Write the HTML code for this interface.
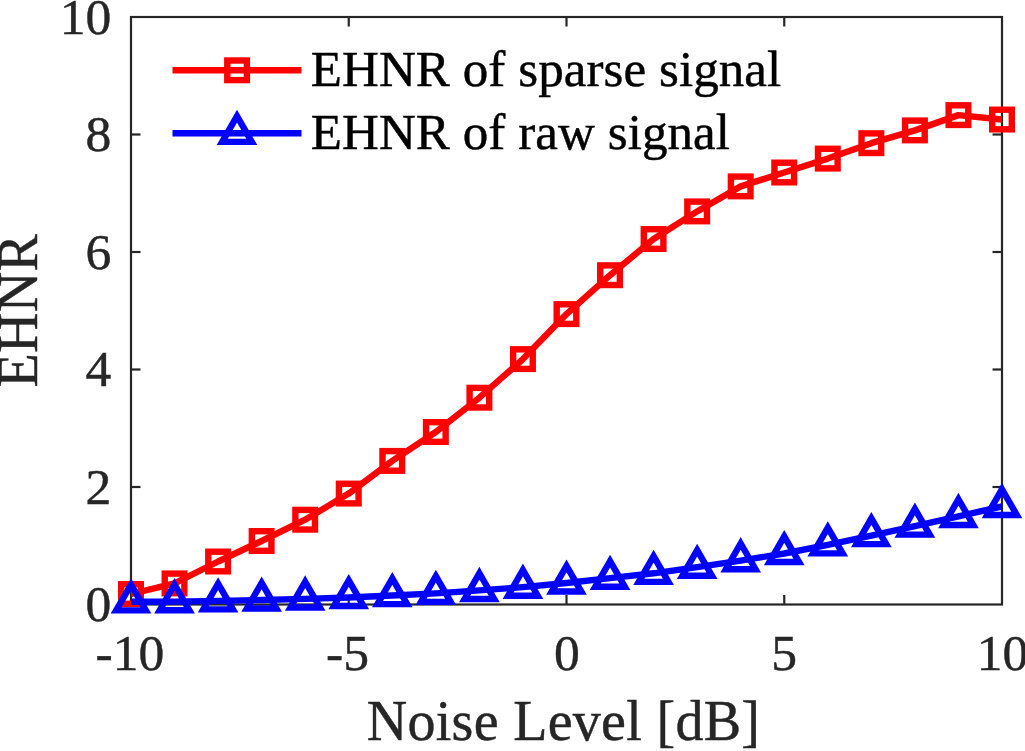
<!DOCTYPE html>
<html lang="en"><head><meta charset="utf-8"><title>EHNR vs Noise Level</title>
<style>html,body{margin:0;padding:0;background:#fff;}svg{display:block;}text{font-family:"Liberation Serif","Times New Roman",serif;stroke-width:0.45px;}</style></head><body>
<svg width="1025" height="751" viewBox="0 0 1025 751">
<rect x="0" y="0" width="1025" height="751" fill="#ffffff"/>
<g stroke="#262626" stroke-width="2.2" fill="none" stroke-linecap="butt">
<rect x="131.0" y="17.0" width="871.0" height="587.5"/>
<line x1="348.75" y1="604.5" x2="348.75" y2="595.0"/>
<line x1="348.75" y1="17.0" x2="348.75" y2="26.5"/>
<line x1="566.50" y1="604.5" x2="566.50" y2="595.0"/>
<line x1="566.50" y1="17.0" x2="566.50" y2="26.5"/>
<line x1="784.25" y1="604.5" x2="784.25" y2="595.0"/>
<line x1="784.25" y1="17.0" x2="784.25" y2="26.5"/>
<line x1="131.0" y1="487.00" x2="140.5" y2="487.00"/>
<line x1="1002.0" y1="487.00" x2="992.5" y2="487.00"/>
<line x1="131.0" y1="369.50" x2="140.5" y2="369.50"/>
<line x1="1002.0" y1="369.50" x2="992.5" y2="369.50"/>
<line x1="131.0" y1="252.00" x2="140.5" y2="252.00"/>
<line x1="1002.0" y1="252.00" x2="992.5" y2="252.00"/>
<line x1="131.0" y1="134.50" x2="140.5" y2="134.50"/>
<line x1="1002.0" y1="134.50" x2="992.5" y2="134.50"/>
</g>
<g fill="#262626" stroke="#262626" font-size="51.6px">
<text x="130.00" y="670" text-anchor="middle">-10</text>
<text x="347.45" y="670" text-anchor="middle">-5</text>
<text x="566.80" y="670" text-anchor="middle">0</text>
<text x="784.05" y="670" text-anchor="middle">5</text>
<text x="1002.50" y="670" text-anchor="middle">10</text>
<text x="111.3" y="621.00" text-anchor="end">0</text>
<text x="111.3" y="503.50" text-anchor="end">2</text>
<text x="111.3" y="386.00" text-anchor="end">4</text>
<text x="111.3" y="268.50" text-anchor="end">6</text>
<text x="111.3" y="151.00" text-anchor="end">8</text>
<text x="111.3" y="33.50" text-anchor="end">10</text>
</g>
<g fill="#262626" stroke="#262626" font-size="56.0px" letter-spacing="0.3">
<text x="563.5" y="740.2" text-anchor="middle">Noise Level [dB]</text>
<text transform="translate(37,310.7) rotate(-90)" text-anchor="middle">EHNR</text>
</g>
<clipPath id="c"><rect x="131.0" y="17.0" width="871.0" height="588.5"/></clipPath>
<polyline clip-path="url(#c)" points="131.00,593.98 174.55,583.41 218.10,561.50 261.65,540.99 305.20,519.72 348.75,493.58 392.30,460.91 435.85,432.01 479.40,397.70 522.95,359.10 566.50,314.10 610.05,275.21 653.60,239.02 697.15,211.40 740.70,186.38 784.25,172.51 827.80,158.59 871.35,143.19 914.90,130.39 958.45,115.11 1002.00,119.52" fill="none" stroke="#ff0000" stroke-width="6.4" stroke-linejoin="round"/>
<rect x="121.20" y="584.18" width="19.6" height="19.6" fill="none" stroke="#ff0000" stroke-width="6.4" stroke-linejoin="miter"/>
<rect x="164.75" y="573.61" width="19.6" height="19.6" fill="none" stroke="#ff0000" stroke-width="6.4" stroke-linejoin="miter"/>
<rect x="208.30" y="551.70" width="19.6" height="19.6" fill="none" stroke="#ff0000" stroke-width="6.4" stroke-linejoin="miter"/>
<rect x="251.85" y="531.19" width="19.6" height="19.6" fill="none" stroke="#ff0000" stroke-width="6.4" stroke-linejoin="miter"/>
<rect x="295.40" y="509.92" width="19.6" height="19.6" fill="none" stroke="#ff0000" stroke-width="6.4" stroke-linejoin="miter"/>
<rect x="338.95" y="483.78" width="19.6" height="19.6" fill="none" stroke="#ff0000" stroke-width="6.4" stroke-linejoin="miter"/>
<rect x="382.50" y="451.11" width="19.6" height="19.6" fill="none" stroke="#ff0000" stroke-width="6.4" stroke-linejoin="miter"/>
<rect x="426.05" y="422.21" width="19.6" height="19.6" fill="none" stroke="#ff0000" stroke-width="6.4" stroke-linejoin="miter"/>
<rect x="469.60" y="387.90" width="19.6" height="19.6" fill="none" stroke="#ff0000" stroke-width="6.4" stroke-linejoin="miter"/>
<rect x="513.15" y="349.30" width="19.6" height="19.6" fill="none" stroke="#ff0000" stroke-width="6.4" stroke-linejoin="miter"/>
<rect x="556.70" y="304.30" width="19.6" height="19.6" fill="none" stroke="#ff0000" stroke-width="6.4" stroke-linejoin="miter"/>
<rect x="600.25" y="265.41" width="19.6" height="19.6" fill="none" stroke="#ff0000" stroke-width="6.4" stroke-linejoin="miter"/>
<rect x="643.80" y="229.22" width="19.6" height="19.6" fill="none" stroke="#ff0000" stroke-width="6.4" stroke-linejoin="miter"/>
<rect x="687.35" y="201.60" width="19.6" height="19.6" fill="none" stroke="#ff0000" stroke-width="6.4" stroke-linejoin="miter"/>
<rect x="730.90" y="176.58" width="19.6" height="19.6" fill="none" stroke="#ff0000" stroke-width="6.4" stroke-linejoin="miter"/>
<rect x="774.45" y="162.71" width="19.6" height="19.6" fill="none" stroke="#ff0000" stroke-width="6.4" stroke-linejoin="miter"/>
<rect x="818.00" y="148.79" width="19.6" height="19.6" fill="none" stroke="#ff0000" stroke-width="6.4" stroke-linejoin="miter"/>
<rect x="861.55" y="133.39" width="19.6" height="19.6" fill="none" stroke="#ff0000" stroke-width="6.4" stroke-linejoin="miter"/>
<rect x="905.10" y="120.59" width="19.6" height="19.6" fill="none" stroke="#ff0000" stroke-width="6.4" stroke-linejoin="miter"/>
<rect x="948.65" y="105.31" width="19.6" height="19.6" fill="none" stroke="#ff0000" stroke-width="6.4" stroke-linejoin="miter"/>
<rect x="992.20" y="109.72" width="19.6" height="19.6" fill="none" stroke="#ff0000" stroke-width="6.4" stroke-linejoin="miter"/>
<polyline clip-path="url(#c)" points="131.00,601.80 174.55,601.62 218.10,600.86 261.65,599.98 305.20,598.86 348.75,597.45 392.30,595.51 435.85,593.34 479.40,590.40 522.95,587.11 566.50,583.00 610.05,578.18 653.60,573.30 697.15,567.19 740.70,560.61 784.25,553.50 827.80,544.81 871.35,535.59 914.90,526.01 958.45,516.38 1002.00,506.39" fill="none" stroke="#0000ff" stroke-width="6.4" stroke-linejoin="round"/>
<polygon points="131.00,584.66 145.80,610.36 116.20,610.36" fill="none" stroke="#0000ff" stroke-width="6.4" stroke-linejoin="miter" stroke-miterlimit="10"/>
<polygon points="174.55,584.49 189.35,610.19 159.75,610.19" fill="none" stroke="#0000ff" stroke-width="6.4" stroke-linejoin="miter" stroke-miterlimit="10"/>
<polygon points="218.10,583.72 232.90,609.42 203.30,609.42" fill="none" stroke="#0000ff" stroke-width="6.4" stroke-linejoin="miter" stroke-miterlimit="10"/>
<polygon points="261.65,582.84 276.45,608.54 246.85,608.54" fill="none" stroke="#0000ff" stroke-width="6.4" stroke-linejoin="miter" stroke-miterlimit="10"/>
<polygon points="305.20,581.73 320.00,607.43 290.40,607.43" fill="none" stroke="#0000ff" stroke-width="6.4" stroke-linejoin="miter" stroke-miterlimit="10"/>
<polygon points="348.75,580.32 363.55,606.02 333.95,606.02" fill="none" stroke="#0000ff" stroke-width="6.4" stroke-linejoin="miter" stroke-miterlimit="10"/>
<polygon points="392.30,578.38 407.10,604.08 377.50,604.08" fill="none" stroke="#0000ff" stroke-width="6.4" stroke-linejoin="miter" stroke-miterlimit="10"/>
<polygon points="435.85,576.20 450.65,601.90 421.05,601.90" fill="none" stroke="#0000ff" stroke-width="6.4" stroke-linejoin="miter" stroke-miterlimit="10"/>
<polygon points="479.40,573.27 494.20,598.97 464.60,598.97" fill="none" stroke="#0000ff" stroke-width="6.4" stroke-linejoin="miter" stroke-miterlimit="10"/>
<polygon points="522.95,569.98 537.75,595.68 508.15,595.68" fill="none" stroke="#0000ff" stroke-width="6.4" stroke-linejoin="miter" stroke-miterlimit="10"/>
<polygon points="566.50,565.86 581.30,591.56 551.70,591.56" fill="none" stroke="#0000ff" stroke-width="6.4" stroke-linejoin="miter" stroke-miterlimit="10"/>
<polygon points="610.05,561.05 624.85,586.75 595.25,586.75" fill="none" stroke="#0000ff" stroke-width="6.4" stroke-linejoin="miter" stroke-miterlimit="10"/>
<polygon points="653.60,556.17 668.40,581.87 638.80,581.87" fill="none" stroke="#0000ff" stroke-width="6.4" stroke-linejoin="miter" stroke-miterlimit="10"/>
<polygon points="697.15,550.06 711.95,575.76 682.35,575.76" fill="none" stroke="#0000ff" stroke-width="6.4" stroke-linejoin="miter" stroke-miterlimit="10"/>
<polygon points="740.70,543.48 755.50,569.18 725.90,569.18" fill="none" stroke="#0000ff" stroke-width="6.4" stroke-linejoin="miter" stroke-miterlimit="10"/>
<polygon points="784.25,536.37 799.05,562.07 769.45,562.07" fill="none" stroke="#0000ff" stroke-width="6.4" stroke-linejoin="miter" stroke-miterlimit="10"/>
<polygon points="827.80,527.68 842.60,553.38 813.00,553.38" fill="none" stroke="#0000ff" stroke-width="6.4" stroke-linejoin="miter" stroke-miterlimit="10"/>
<polygon points="871.35,518.45 886.15,544.15 856.55,544.15" fill="none" stroke="#0000ff" stroke-width="6.4" stroke-linejoin="miter" stroke-miterlimit="10"/>
<polygon points="914.90,508.88 929.70,534.58 900.10,534.58" fill="none" stroke="#0000ff" stroke-width="6.4" stroke-linejoin="miter" stroke-miterlimit="10"/>
<polygon points="958.45,499.24 973.25,524.94 943.65,524.94" fill="none" stroke="#0000ff" stroke-width="6.4" stroke-linejoin="miter" stroke-miterlimit="10"/>
<polygon points="1002.00,489.25 1016.80,514.95 987.20,514.95" fill="none" stroke="#0000ff" stroke-width="6.4" stroke-linejoin="miter" stroke-miterlimit="10"/>
<line x1="172.5" y1="70.3" x2="301.5" y2="70.3" stroke="#ff0000" stroke-width="6.4"/>
<rect x="227.30" y="60.50" width="19.6" height="19.6" fill="none" stroke="#ff0000" stroke-width="6.4" stroke-linejoin="miter"/>
<line x1="172.5" y1="133.3" x2="301.5" y2="133.3" stroke="#0000ff" stroke-width="6.4"/>
<polygon points="237.00,116.17 251.80,141.87 222.20,141.87" fill="none" stroke="#0000ff" stroke-width="6.4" stroke-linejoin="miter" stroke-miterlimit="10"/>
<g fill="#000000" stroke="#000000" letter-spacing="0.08" font-size="51px">
<text x="310.8" y="86.4">EHNR of sparse signal</text>
<text x="310.8" y="149.4">EHNR of raw signal</text>
</g>
</svg></body></html>
